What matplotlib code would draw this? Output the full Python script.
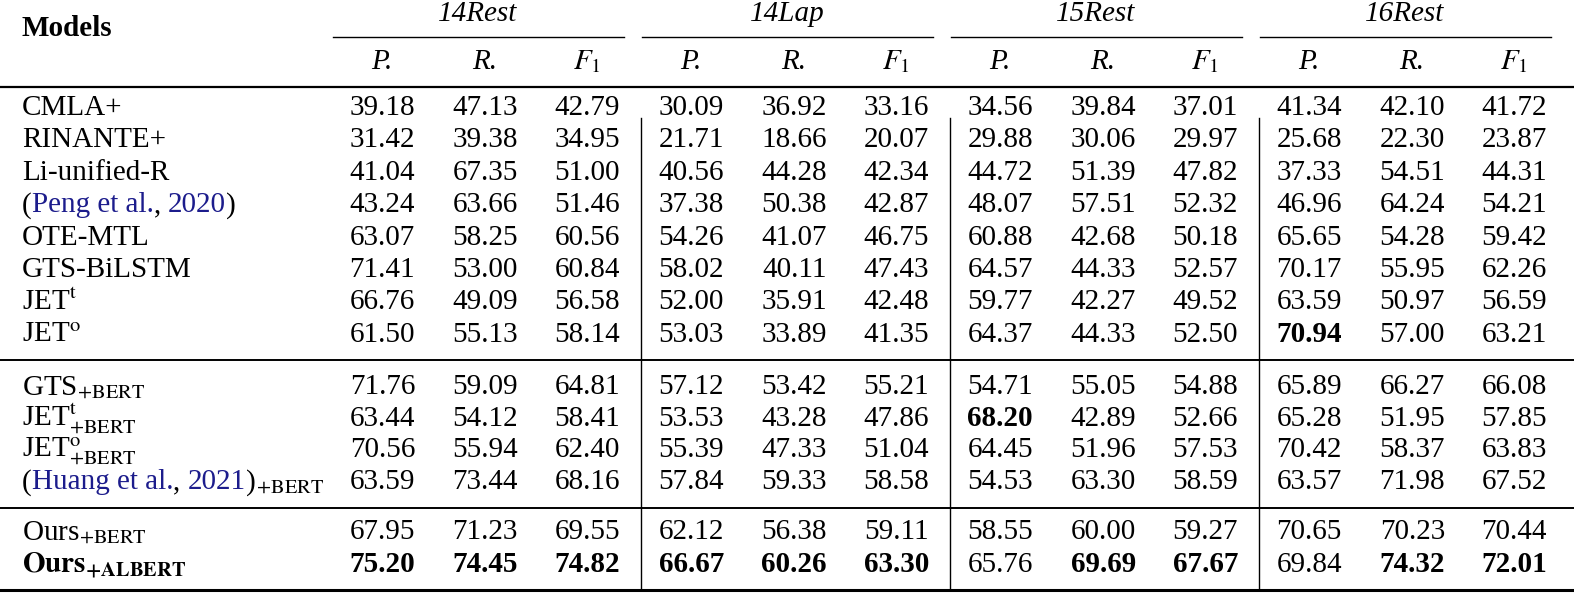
import matplotlib.pyplot as plt

plt.rcParams['font.family'] = ['Liberation Serif', 'DejaVu Serif']
plt.rcParams['mathtext.fontset'] = 'stix'

W, H = 1574, 594
FS = 21
BLUE = '#1c1c8c'

datasets = ['14Rest', '14Lap', '15Rest', '16Rest']
metrics = ['P.', 'R.', '$F_1$']

models = [
    'CMLA+', 'RINANTE+', 'Li-unified-R', 'PENG', 'OTE-MTL', 'GTS-BiLSTM',
    r'JET$^{\mathrm{t}}$', r'JET$^{\mathrm{o}}$',
    r'GTS$_{\mathrm{+BERT}}$', r'JET$^{\mathrm{t}}_{\mathrm{+BERT}}$',
    r'JET$^{\mathrm{o}}_{\mathrm{+BERT}}$', 'HUANG',
    r'Ours$_{\mathrm{+BERT}}$', r'$\mathbf{Ours_{+ALBERT}}$',
]

scores = [
    [39.18, 47.13, 42.79, 30.09, 36.92, 33.16, 34.56, 39.84, 37.01, 41.34, 42.10, 41.72],
    [31.42, 39.38, 34.95, 21.71, 18.66, 20.07, 29.88, 30.06, 29.97, 25.68, 22.30, 23.87],
    [41.04, 67.35, 51.00, 40.56, 44.28, 42.34, 44.72, 51.39, 47.82, 37.33, 54.51, 44.31],
    [43.24, 63.66, 51.46, 37.38, 50.38, 42.87, 48.07, 57.51, 52.32, 46.96, 64.24, 54.21],
    [63.07, 58.25, 60.56, 54.26, 41.07, 46.75, 60.88, 42.68, 50.18, 65.65, 54.28, 59.42],
    [71.41, 53.00, 60.84, 58.02, 40.11, 47.43, 64.57, 44.33, 52.57, 70.17, 55.95, 62.26],
    [66.76, 49.09, 56.58, 52.00, 35.91, 42.48, 59.77, 42.27, 49.52, 63.59, 50.97, 56.59],
    [61.50, 55.13, 58.14, 53.03, 33.89, 41.35, 64.37, 44.33, 52.50, 70.94, 57.00, 63.21],
    [71.76, 59.09, 64.81, 57.12, 53.42, 55.21, 54.71, 55.05, 54.88, 65.89, 66.27, 66.08],
    [63.44, 54.12, 58.41, 53.53, 43.28, 47.86, 68.20, 42.89, 52.66, 65.28, 51.95, 57.85],
    [70.56, 55.94, 62.40, 55.39, 47.33, 51.04, 64.45, 51.96, 57.53, 70.42, 58.37, 63.83],
    [63.59, 73.44, 68.16, 57.84, 59.33, 58.58, 54.53, 63.30, 58.59, 63.57, 71.98, 67.52],
    [67.95, 71.23, 69.55, 62.12, 56.38, 59.11, 58.55, 60.00, 59.27, 70.65, 70.23, 70.44],
    [75.20, 74.45, 74.82, 66.67, 60.26, 63.30, 65.76, 69.69, 67.67, 69.84, 74.32, 72.01],
]

# (row, column) cells in bold
bold_cells = {(7, 9), (9, 6), (13, 0), (13, 1), (13, 2), (13, 3), (13, 4), (13, 5),
              (13, 7), (13, 8), (13, 10), (13, 11)}

# layout in pixels
row_y = [108 + 32.4 * i for i in range(8)] + [387 + 31.7 * i for i in range(4)] + [532, 565]
group_w = 309
col_right = [415, 518, 620]

fig = plt.figure(figsize=(W / 100, H / 100), dpi=100)
ax = fig.add_axes([0, 0, 1, 1])
ax.set_xlim(0, W)
ax.set_ylim(H, 0)
ax.axis('off')

ax.text(22, 28, 'Models', fontsize=FS, fontweight='bold', va='center')
for g, name in enumerate(datasets):
    x0 = 333 + g * group_w
    ax.text(x0 + 145, 14, name, fontsize=FS, style='italic', ha='center', va='center')
    ax.plot([x0, x0 + 291], [37, 37], color='black', lw=1)
    for m, lab in enumerate(metrics):
        ax.text(col_right[m] + g * group_w - 33, 62, lab, fontsize=FS, style='italic',
                ha='center', va='center')

for y, lw in [(87, 1.6), (360, 1.4), (508, 1.4), (590, 2.2)]:
    ax.plot([0, W], [y, y], color='black', lw=lw)
for g in range(1, 4):
    x = 641 + (g - 1) * group_w
    ax.plot([x, x], [118, 590], color='black', lw=1)


def pieces(x, y, parts):
    fig.canvas.draw()
    r = fig.canvas.get_renderer()
    inv = ax.transData.inverted()
    for s, c in parts:
        t = ax.text(x, y, s, fontsize=FS, color=c, va='center')
        bb = t.get_window_extent(renderer=r)
        x = inv.transform((bb.x1, bb.y0))[0]


for i, name in enumerate(models):
    y = row_y[i]
    if name == 'PENG':
        pieces(22, y, [('(', 'black'), ('Peng et al.', BLUE), (', ', 'black'),
                       ('2020', BLUE), (')', 'black')])
    elif name == 'HUANG':
        pieces(22, y, [('(', 'black'), ('Huang et al.', BLUE), (', ', 'black'),
                       ('2021', BLUE), (')', 'black'), (r'$_{\mathrm{+BERT}}$', 'black')])
    else:
        ax.text(22, y, name, fontsize=FS, va='center')
    for j, v in enumerate(scores[i]):
        x = col_right[j % 3] + (j // 3) * group_w
        ax.text(x, y, f'{v:.2f}', fontsize=FS, ha='right', va='center',
                fontweight='bold' if (i, j) in bold_cells else 'normal')

fig.savefig('out.png', dpi=100)
